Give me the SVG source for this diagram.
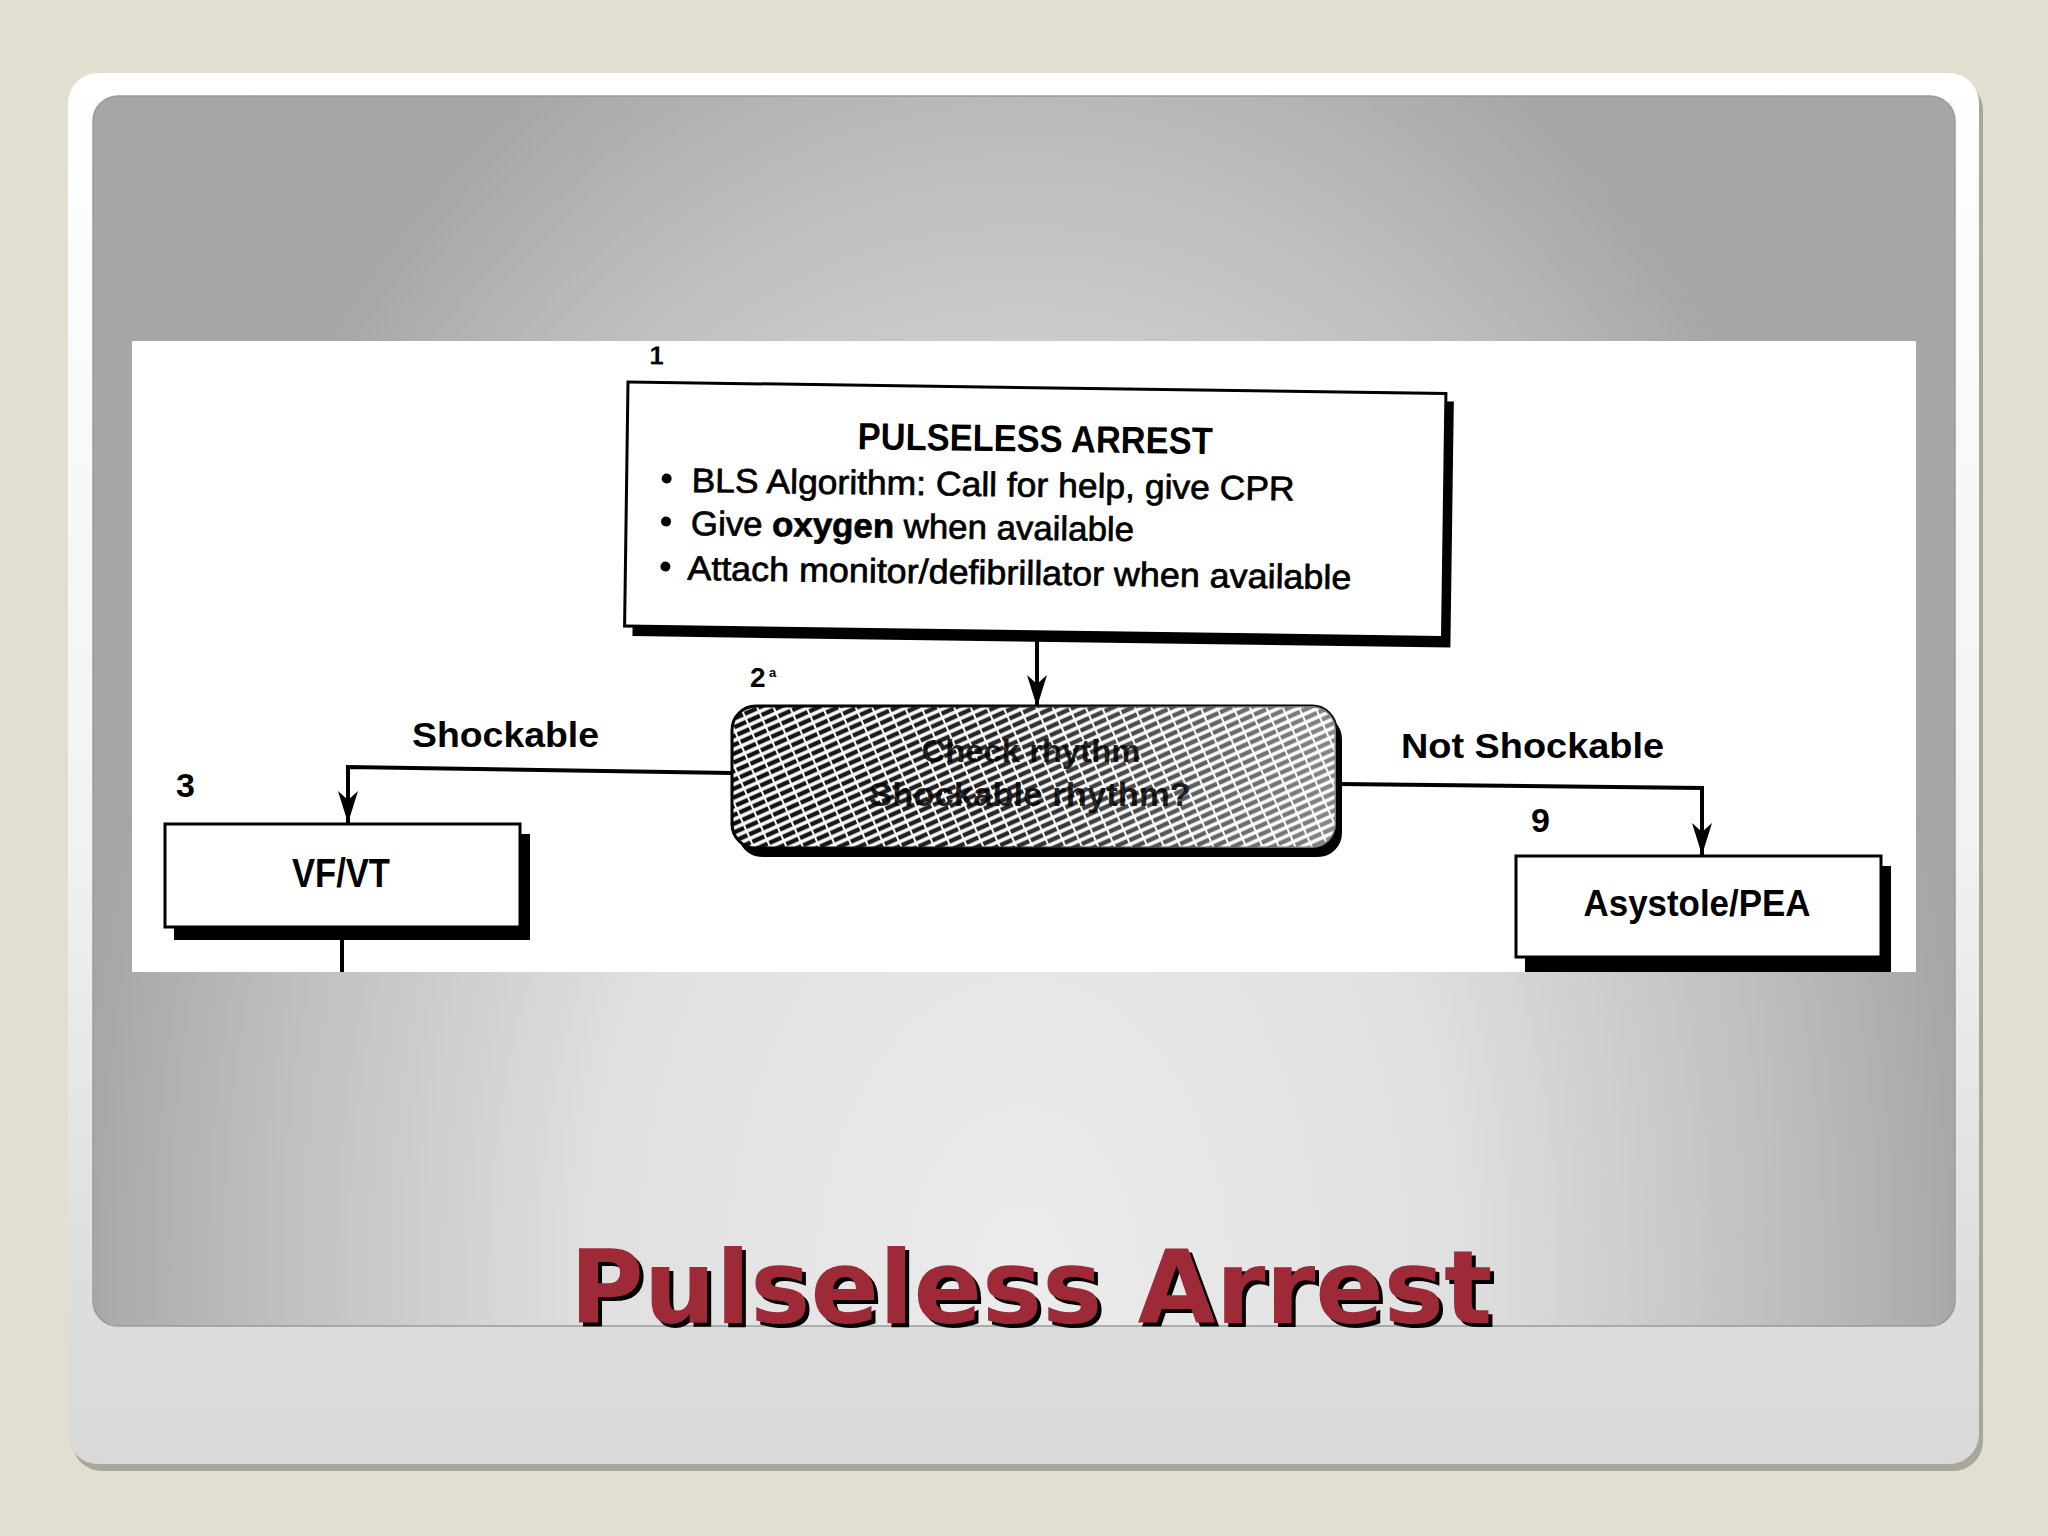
<svg xmlns="http://www.w3.org/2000/svg" width="2048" height="1536" viewBox="0 0 2048 1536">
  <defs>
    <style>
      .bold { font-family: "Liberation Sans", Arial, sans-serif; font-weight: bold; fill: #000; }
      .reg { font-family: "Liberation Sans", Arial, sans-serif; fill: #000; stroke: #000; stroke-width: 0.7; }
      .box { fill: #fff; stroke: #000; stroke-width: 3; }
      .shadow { fill: #000; }
      .conn { fill: none; stroke: #000; stroke-width: 4; }
      .title { font-family: "DejaVu Sans", Verdana, sans-serif; font-weight: bold; font-size: 101px; }
    </style>
    <linearGradient id="frameGrad" x1="0" y1="0" x2="0" y2="1">
      <stop offset="0" stop-color="#ffffff"/>
      <stop offset="0.55" stop-color="#f2f2f2"/>
      <stop offset="0.85" stop-color="#dedede"/>
      <stop offset="1" stop-color="#d9d9d9"/>
    </linearGradient>
    <radialGradient id="panelGrad" gradientUnits="userSpaceOnUse" cx="1024" cy="1280" r="1000" gradientTransform="translate(1024 1280) scale(0.95 1.4) translate(-1024 -1280)">
      <stop offset="0" stop-color="#ececec"/>
      <stop offset="0.45" stop-color="#e0e0e0"/>
      <stop offset="0.8" stop-color="#bebebe"/>
      <stop offset="1" stop-color="#a6a6a6"/>
    </radialGradient>
    <pattern id="hatch" patternUnits="userSpaceOnUse" width="30" height="8" patternTransform="rotate(-24)">
      <rect width="30" height="8" fill="#fff"/>
      <line x1="0" y1="3" x2="30" y2="3" stroke="#111" stroke-width="4.4" stroke-dasharray="13 2"/>
    </pattern>
    <linearGradient id="fade" x1="0" y1="0" x2="1" y2="0">
      <stop offset="0" stop-color="#fff" stop-opacity="0"/>
      <stop offset="0.45" stop-color="#fff" stop-opacity="0.1"/>
      <stop offset="1" stop-color="#fff" stop-opacity="0.5"/>
    </linearGradient>
    <clipPath id="imgClip">
      <rect x="132" y="341" width="1784" height="631"/>
    </clipPath>
    <marker id="arrow" markerUnits="userSpaceOnUse" markerWidth="36" markerHeight="24" refX="32" refY="11" orient="auto">
      <path d="M0,1 L32,11 L0,21 L9,11 z" fill="#000"/>
    </marker>
  </defs>

  <!-- slide background -->
  <rect x="0" y="0" width="2048" height="1536" fill="#e2dfd1"/>
  <g id="frame">
    <rect x="72" y="80" width="1911" height="1391" rx="30" fill="#a8a79b"/>
    <rect x="68" y="73" width="1911" height="1391" rx="30" fill="url(#frameGrad)"/>
    <rect x="93" y="96" width="1862" height="1230" rx="25" fill="url(#panelGrad)" stroke="#9a9a9a" stroke-width="1.5"/>
    <rect x="132" y="341" width="1784" height="631" fill="#fff"/>
  </g>

  <g id="diagram" clip-path="url(#imgClip)">
    <g id="connectors">
      <path class="conn" d="M1037 640 V707" marker-end="url(#arrow)"/>
      <path class="conn" d="M732 773 L348 767 L348 823" marker-end="url(#arrow)"/>
      <path class="conn" d="M1338 784 L1702 788 L1702 855" marker-end="url(#arrow)"/>
      <path class="conn" d="M342 938 V980"/>
    </g>

    <g id="node-1" transform="rotate(0.8 628 382)">
      <text class="bold" x="649" y="364" font-size="26">1</text>
      <rect class="shadow" x="636" y="390" width="818" height="246"/>
      <rect class="box" x="628" y="382" width="818" height="244"/>
      <text class="bold" x="1036" y="446" font-size="38" text-anchor="middle" textLength="355" lengthAdjust="spacingAndGlyphs">PULSELESS ARREST</text>
      <circle cx="668" cy="478" r="5" fill="#000"/>
      <circle cx="668" cy="521" r="5" fill="#000"/>
      <circle cx="668" cy="566" r="5" fill="#000"/>
      <text class="reg" x="693" y="491" font-size="34" textLength="603" lengthAdjust="spacingAndGlyphs">BLS Algorithm: Call for help, give CPR</text>
      <text class="reg" x="693" y="534" font-size="34" textLength="443" lengthAdjust="spacingAndGlyphs">Give <tspan font-weight="bold">oxygen</tspan> when available</text>
      <text class="reg" x="690" y="579" font-size="34" textLength="664" lengthAdjust="spacingAndGlyphs">Attach monitor/defibrillator when available</text>
    </g>

    <g id="node-2">
      <text class="bold" x="750" y="687" font-size="28">2</text>
      <text class="bold" x="769" y="677" font-size="13">a</text>
      <rect class="shadow" x="738" y="715" width="604" height="142" rx="24"/>
      <rect x="732" y="706" width="604" height="142" rx="24" fill="url(#hatch)" stroke="#000" stroke-width="3"/>
      <rect x="732" y="706" width="604" height="142" rx="24" fill="url(#fade)"/>
      <text class="bold" x="1031" y="762" font-size="32" text-anchor="middle" fill="#1a1a1a" textLength="219" lengthAdjust="spacingAndGlyphs" opacity="0.85">Check rhythm</text>
      <text class="bold" x="1030" y="806" font-size="33" text-anchor="middle" fill="#1a1a1a" textLength="322" lengthAdjust="spacingAndGlyphs" opacity="0.85">Shockable rhythm?</text>
    </g>

    <g id="label-shockable">
      <text class="bold" x="412" y="747" font-size="35" textLength="187" lengthAdjust="spacingAndGlyphs">Shockable</text>
    </g>
    <g id="label-not-shockable">
      <text class="bold" x="1401" y="758" font-size="35" textLength="263" lengthAdjust="spacingAndGlyphs">Not Shockable</text>
    </g>

    <g id="node-3">
      <text class="bold" x="176" y="797" font-size="34">3</text>
      <rect class="shadow" x="174" y="834" width="356" height="106"/>
      <rect class="box" x="165" y="824" width="355" height="103"/>
      <text class="bold" x="341" y="887" font-size="40" text-anchor="middle" textLength="98" lengthAdjust="spacingAndGlyphs">VF/VT</text>
    </g>

    <g id="node-9">
      <text class="bold" x="1531" y="832" font-size="34">9</text>
      <rect class="shadow" x="1525" y="866" width="366" height="106"/>
      <rect class="box" x="1516" y="856" width="365" height="101"/>
      <text class="bold" x="1697" y="916" font-size="36" text-anchor="middle" textLength="227" lengthAdjust="spacingAndGlyphs">Asystole/PEA</text>
    </g>
  </g>

  <g id="title">
    <text class="title" x="1035" y="1327" text-anchor="middle" fill="#000">Pulseless Arrest</text>
    <text class="title" x="1031" y="1323" text-anchor="middle" fill="#9e2a38">Pulseless Arrest</text>
  </g>
</svg>
